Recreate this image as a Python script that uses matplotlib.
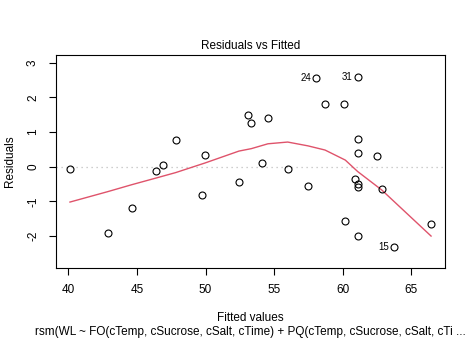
import matplotlib.pyplot as plt

plt.rcParams['font.family'] = ['Liberation Sans', 'DejaVu Sans']

# fitted values and residuals of the response surface model
fitted = [40.12, 42.87, 44.62, 46.37, 46.88, 47.83, 49.75, 49.99, 52.44,
          53.12, 53.34, 54.09, 54.55, 55.99, 57.47, 58.05, 58.71, 60.07,
          60.19, 60.87, 61.09, 61.09, 61.09, 61.09, 61.09, 61.09, 62.48,
          62.84, 63.72, 66.44]
resid = [-0.07, -1.91, -1.18, -0.13, 0.06, 0.78, -0.81, 0.33, -0.43,
         1.49, 1.27, 0.12, 1.40, -0.07, -0.56, 2.55, 1.80, 1.82,
         -1.58, -0.35, 2.59, 0.79, 0.39, -0.50, -0.60, -2.00, 0.30,
         -0.63, -2.32, -1.64]

# lowess smoother through the residuals
smooth_x = [40.12, 42.87, 44.62, 46.37, 47.83, 49.99, 52.44, 53.34, 54.55,
            55.99, 57.47, 58.71, 60.19, 61.09, 62.84, 66.44]
smooth_y = [-1.02, -0.72, -0.52, -0.33, -0.17, 0.11, 0.45, 0.52, 0.66,
            0.71, 0.60, 0.48, 0.19, -0.14, -0.67, -2.00]

# largest residuals, labelled by observation number
flagged = {'24': (58.05, 2.55), '31': (61.09, 2.59), '15': (63.72, -2.32)}


def main():
    fig = plt.figure(figsize=(4.74, 3.38), dpi=100)
    ax = fig.add_axes([0.1175, 0.2062, 0.822, 0.6311])

    ax.axhline(0, color='#BEBEBE', lw=0.9, ls=(0, (1, 3)), zorder=1)
    ax.plot(smooth_x, smooth_y, color='#DF536B', lw=1.0, zorder=2)
    ax.plot(fitted, resid, 'o', ms=5.0, mfc='none', mec='black', mew=0.8,
            zorder=3)
    for name, (x, y) in flagged.items():
        ax.annotate(name, (x, y), xytext=(-3.5, 0), textcoords='offset points',
                    ha='right', va='center', fontsize=7)

    ax.set_xlim(39.08, 67.48)
    ax.set_ylim(-2.93, 3.22)
    ax.set_xticks([40, 45, 50, 55, 60, 65])
    ax.set_yticks([-2, -1, 0, 1, 2, 3])
    ax.set_yticklabels(['-2', '-1', '0', '1', '2', '3'], rotation=90,
                       va='center')
    ax.tick_params(direction='out', length=5, width=0.8, labelsize=8.5)
    ax.tick_params(axis='x', pad=6)
    ax.tick_params(axis='y', pad=7)
    for s in ax.spines.values():
        s.set_linewidth(0.8)

    ax.set_title('Residuals vs Fitted', fontsize=8.5, pad=4)
    ax.set_ylabel('Residuals', fontsize=8.5, labelpad=8)
    ax.set_xlabel('Fitted values', fontsize=8.5, labelpad=12)
    fig.text(0.5285, 1 - 332 / 338,
             'rsm(WL ~ FO(cTemp, cSucrose, cSalt, cTime) + PQ(cTemp, '
             'cSucrose, cSalt, cTi ...', ha='center', va='center',
             fontsize=8.5)

    fig.savefig('out.png', dpi=100)


if __name__ == '__main__':
    main()
